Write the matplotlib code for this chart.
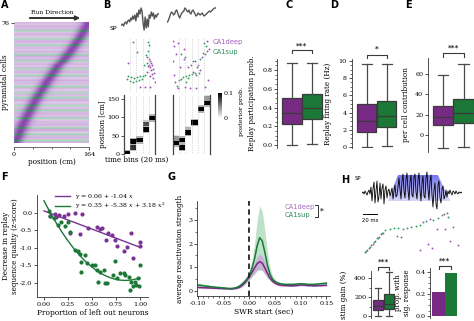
import numpy as np
import matplotlib
matplotlib.use("Agg")
import matplotlib.pyplot as plt
from matplotlib.colors import LinearSegmentedColormap
from matplotlib.lines import Line2D
from matplotlib.patches import Polygon, FancyArrowPatch
from matplotlib.ticker import AutoMinorLocator

# ---------------------------------------------------------------- data
groups = ["CA1deep", "CA1sup"]

# A: place-field peaks (cm) of 76 pyramidal cells, bottom row first
track_length_cm = 164
place_peaks_cm = [2, 4, 5, 7, 9, 10, 11, 13, 14, 16,
                  17, 19, 20, 22, 24, 25, 27, 29, 31, 33,
                  35, 36, 38, 40, 42, 44, 46, 48, 50, 52,
                  54, 57, 59, 61, 63, 66, 68, 70, 72, 75,
                  77, 80, 82, 84, 87, 89, 91, 94, 96, 99,
                  104, 107, 110, 113, 116, 118, 121, 124, 126, 129,
                  131, 134, 136, 139, 141, 144, 146, 148, 150, 152,
                  154, 156, 158, 160, 162, 163]
superficial_rows = [2, 6, 10, 16, 21, 24, 29, 32, 36, 43, 47, 52, 56, 62, 66, 71]
row_background = [0.30, 0.45, 0.20, 0.35, 0.25, 0.50, 0.15, 0.30, 0.40, 0.45,
                  0.20, 0.35, 0.25, 0.30, 0.15, 0.45, 0.30, 0.20, 0.35, 0.25,
                  0.45, 0.30, 0.20, 0.40, 0.25, 0.15, 0.35, 0.30, 0.45, 0.20,
                  0.30, 0.40, 0.25, 0.15, 0.35, 0.45, 0.20, 0.30, 0.25, 0.40,
                  0.15, 0.30, 0.45, 0.20, 0.35, 0.25, 0.40, 0.30, 0.15, 0.35,
                  0.20, 0.45, 0.30, 0.25, 0.40, 0.50, 0.20, 0.35, 0.15, 0.30,
                  0.25, 0.45, 0.20, 0.35, 0.30, 0.40, 0.15, 0.25, 0.35, 0.20,
                  0.45, 0.30, 0.25, 0.35, 0.20, 0.30]

# B: LFP snippets of two replay events (arbitrary units)
lfp_event1 = [0, 1, -1, 2, 3, 1, 4, 5, 3, 7, 5, 9, 6, 10, 4, 12, 8, 15, 11, 17,
              14, 2, -5, 8, -3, 6, -2, 10, 7, 13, 9, 12, 6, 10, 8, 11, 11]
lfp_event2 = [-2, 0, 3, 6, 8, 7, 5, 6, 9, 10, 7, 4, 2, 5, 7, 8, 9, 12, 11, 9,
              8, 10, 7, 6, 9, 10, 8, 6, 4, 5, 7, 6, 5, 6, 7, 5, 4, 5, 6, 7,
              8, 9, 8, 9, 10, 11, 12, 12]
# spikes: time (ms) and cell rank
ev1_deep_t = [29, 13, 42, 74, 80, 83, 86, 80, 90, 77, 83, 93, 86, 74, 90, 83, 96, 10, 51, 67, 83, 93, 99]
ev1_deep_cell = [56, 33, 45, 39, 37, 35, 33, 31, 30, 29, 28, 26, 25, 23, 21, 18, 22, 15, 6, 6, 6, 16, 12]
ev1_sup_t = [77, 80, 77, 70, 64, 13, 22, 32, 42, 51, 61, 19, 29, 38, 48, 58, 67, 74]
ev1_sup_cell = [56, 52, 46, 41, 30, 18, 17, 16, 17, 18, 18, 13, 12, 13, 14, 15, 20, 33]
ev2_deep_t = [0, 3, 10, 1, 23, 3, 6, 16, 39, 55, 75, 104, 113, 87, 81, 71, 94, 104, 110, 117,
              110, 75, 65, 49, 58, 36, 16, 36]
ev2_deep_cell = [57, 51, 43, 35, 28, 20, 12, 5, 7, 5, 5, 7, 14, 25, 31, 35, 39, 43, 46, 48,
                 57, 20, 23, 28, 30, 37, 54, 48]
ev2_sup_t = [32, 42, 52, 62, 71, 26, 19, 49, 78, 87, 97, 107, 39, 26, 13, 42, 65, 84, 100]
ev2_sup_cell = [17, 18, 20, 21, 22, 15, 14, 16, 28, 37, 44, 51, 39, 43, 8, 12, 35, 22, 54]
# decoded posterior: per 20-ms bin, list of (position cm, probability)
ev1_posterior = [[(4, 0.10)], [(20, 0.08), (35, 0.10)], [(38, 0.10)],
                 [(68, 0.10), (82, 0.07)], [(97, 0.10)]]
ev2_posterior = [[(30, 0.10), (44, 0.04)], [(20, 0.10), (38, 0.10)], [(57, 0.10), (68, 0.03)],
                 [(87, 0.10)], [(120, 0.10)], [(139, 0.10), (150, 0.04)]]

# C-E: box statistics (low whisker, q1, median, q3, high whisker)
participation_stats = [(0.00, 0.22, 0.34, 0.50, 0.87), (0.01, 0.28, 0.40, 0.54, 0.87)]
firing_rate_stats = [(0.0, 1.7, 3.0, 5.0, 9.6), (0.1, 2.35, 3.65, 5.35, 9.6)]
contribution_stats = [(-13, 10, 18, 29, 59), (-12, 12, 22, 35, 70)]

# F: replay quality after removing neurons
f_deep_x = [0.11, 0.16, 0.21, 0.25, 0.32, 0.40, 0.27, 0.37, 0.46, 0.55, 0.58, 0.65, 0.67,
            0.74, 0.76, 0.83, 0.91, 0.93, 1.00, 1.00, 0.06, 0.13, 0.60, 0.71, 0.86]
f_deep_y = [-0.04, -0.06, -0.08, -0.04, -0.01, -0.04, -0.58, -0.61, -0.44, -0.39, -0.45, -0.77, -0.56,
            -0.77, -0.94, -1.08, -0.56, -1.30, -0.83, -0.93, -0.08, -0.12, -0.42, -0.62, -0.98]
f_sup_x = [0.05, 0.06, 0.10, 0.15, 0.18, 0.22, 0.25, 0.27, 0.32, 0.35, 0.37, 0.39, 0.43, 0.45,
           0.39, 0.50, 0.53, 0.55, 0.58, 0.62, 0.56, 0.64, 0.66, 0.74, 0.72, 0.76, 0.79, 0.83,
           0.84, 0.88, 0.91, 0.95, 0.98, 0.93, 0.96, 0.99, 1.00, 0.90]
f_sup_y = [0.05, -0.10, -0.15, -0.34, -0.25, -0.36, -0.25, -0.55, -1.06, -1.10, -1.18, -1.39, -1.20, -1.44,
           -1.68, -1.49, -1.49, -1.63, -1.68, -1.63, -1.96, -2.00, -2.00, -1.37, -1.77, -1.86, -1.72, -1.72,
           -1.77, -1.82, -1.96, -1.96, -1.85, -2.10, -2.05, -2.10, -1.49, -2.20]
fit_deep = (0.06, -1.04)
fit_sup = (0.35, -5.38, 3.18)

# G: reactivation strength around SWR start
g_step = 0.005
g_deep_mean = [0.15, 0.15, 0.14, 0.14, 0.13, 0.13, 0.12, 0.12, 0.11, 0.11,
               0.10, 0.10, 0.09, 0.09, 0.10, 0.12, 0.15, 0.22, 0.32, 0.45,
               0.60, 0.78, 0.97, 1.15, 1.24, 1.18, 0.98, 0.75, 0.55, 0.42,
               0.33, 0.28, 0.25, 0.24, 0.23, 0.23, 0.22, 0.22, 0.23, 0.24,
               0.25, 0.25, 0.24, 0.23, 0.23, 0.22, 0.22, 0.23, 0.23, 0.24, 0.24]
g_sup_mean = [0.25, 0.24, 0.22, 0.21, 0.20, 0.18, 0.17, 0.16, 0.15, 0.14,
              0.13, 0.12, 0.11, 0.11, 0.12, 0.15, 0.20, 0.28, 0.38, 0.50,
              0.66, 0.95, 1.35, 1.90, 2.25, 2.12, 1.65, 1.10, 0.72, 0.50,
              0.40, 0.34, 0.31, 0.29, 0.28, 0.28, 0.28, 0.28, 0.29, 0.30,
              0.31, 0.30, 0.29, 0.28, 0.28, 0.28, 0.29, 0.30, 0.31, 0.32, 0.33]
g_deep_ci = [0.04, 0.04, 0.04, 0.04, 0.03, 0.03, 0.03, 0.03, 0.03, 0.03,
             0.03, 0.03, 0.03, 0.03, 0.03, 0.03, 0.04, 0.05, 0.06, 0.08,
             0.10, 0.14, 0.20, 0.27, 0.32, 0.30, 0.24, 0.16, 0.10, 0.07,
             0.05, 0.04, 0.04, 0.04, 0.03, 0.03, 0.03, 0.03, 0.03, 0.03,
             0.03, 0.03, 0.03, 0.03, 0.03, 0.03, 0.03, 0.03, 0.03, 0.03, 0.03]
g_sup_ci = [0.10, 0.09, 0.08, 0.07, 0.06, 0.05, 0.05, 0.04, 0.04, 0.04,
            0.04, 0.04, 0.04, 0.04, 0.04, 0.05, 0.06, 0.08, 0.10, 0.14,
            0.20, 0.35, 0.65, 1.05, 1.35, 1.25, 0.95, 0.55, 0.28, 0.14,
            0.09, 0.07, 0.06, 0.05, 0.05, 0.05, 0.05, 0.05, 0.05, 0.05,
            0.06, 0.06, 0.05, 0.05, 0.05, 0.05, 0.05, 0.05, 0.06, 0.06, 0.06]

# H: optogenetic ripple example
h_sample_ms = 1.36
h_lfp = [0, 1, -1, 2, 0, -2, 1, 3, -1,
         6, -8, 4, 11, -10, 2, 12, -9, -3, 10, -6, 5, 9, -11, 3,
         7, -5, 2, 4, -3, 1, 5, -6, 2, 8, -4, -2, 6,
         15, 4, -6, 12, 19, 2, -5, 14, 20, 3, -7, 11, 18, -2, -4, 16, 19, 1, -6, 13,
         20, 3, -8, 10, 17, -3, -5, 15, 21, 4, -7, 12, 18, -2, -14, 3, 10, -11, -16, 8,
         12, -5, -10, 4, 7, -6, -3,
         3, -4, 2, -1, 3, 0, -2, 2, 1, -1, 2, 0, -1, 1, 0, 1, 0]
stim_ramp_ms = [35, 49, 103, 120]
stim_ramp_level = [-8, 18, 18, -8]
h_deep_t = [4, 7, 10, 12, 15, 18, 20, 23, 26, 29, 48, 53, 102, 113, 120, 90, 95, 79, 131, 92, 109, 116, 83]
h_deep_cell = [5, 7, 9, 11, 12, 15, 17, 18, 21, 22, 19, 18, 25, 25, 15, 12, 9, 7, 11, 34, 37, 39, 31]
h_sup_t = [5, 11, 16, 22, 27, 31, 38, 44, 49, 56, 61, 67, 73, 79, 87, 97, 103, 112, 117, 124]
h_sup_cell = [6, 10, 14, 17, 22, 24, 25, 26, 26, 25, 26, 27, 28, 29, 32, 33, 35, 38, 36, 27]
stim_gain_stats = [(5, 60, 105, 165, 300), (5, 75, 130, 235, 460)]
sig_response_prop = [0.22, 0.39]

# ---------------------------------------------------------------- style
PURPLE = "#762a83"
GREEN = "#1b7837"
DOT_PURPLE = "#9b4fb5"
DOT_GREEN = "#2e9e5b"
EDGE = "#3a3a3a"
SANS = "DejaVu Sans"

plt.rcParams.update({
    "font.family": "DejaVu Serif",
    "mathtext.fontset": "dejavuserif",
    "axes.unicode_minus": False,
    "font.size": 5,
    "axes.linewidth": 0.6,
    "axes.edgecolor": "#333333",
    "xtick.color": "#333333", "ytick.color": "#333333",
    "xtick.labelcolor": "black", "ytick.labelcolor": "black",
    "xtick.major.width": 0.6, "ytick.major.width": 0.6,
    "xtick.major.size": 2.2, "ytick.major.size": 2.2,
    "xtick.minor.size": 1.2, "ytick.minor.size": 1.2,
    "xtick.minor.width": 0.5, "ytick.minor.width": 0.5,
    "xtick.labelsize": 4.6, "ytick.labelsize": 4.6,
    "xtick.major.pad": 1.2, "ytick.major.pad": 1.2,
    "axes.labelsize": 5.2, "axes.labelpad": 1.5,
})

W, H = 474, 321
fig = plt.figure(figsize=(W / 100, H / 100), dpi=100)


def add_ax(x0, y0, x1, y1):
    return fig.add_axes([x0 / W, 1 - y1 / H, (x1 - x0) / W, (y1 - y0) / H])


def ftext(x, y, s, **kw):
    fig.text(x / W, 1 - y / H, s, **kw)


def panel_letter(x, y, s):
    ftext(x, y, s, family=SANS, fontweight="bold", fontsize=7, ha="left", va="center")


def only_left(ax):
    for side in ("top", "right", "bottom"):
        ax.spines[side].set_visible(False)
    ax.set_xticks([])


def sig_bracket(ax, x0, x1, y, h, text, ty):
    ax.plot([x0, x0, x1, x1], [y - h, y, y, y - h], color=EDGE, lw=0.8, clip_on=False)
    ax.text((x0 + x1) / 2, ty, text, ha="center", va="center", fontsize=5.5, clip_on=False)


def box_pair(ax, stats, widths=0.98):
    bstats = [dict(whislo=s[0], q1=s[1], med=s[2], q3=s[3], whishi=s[4], fliers=[]) for s in stats]
    parts = ax.bxp(bstats, positions=[0, 1], widths=widths, patch_artist=True,
                   showfliers=False, capwidths=0.5, manage_ticks=False,
                   boxprops=dict(edgecolor=EDGE, linewidth=0.9),
                   medianprops=dict(color=EDGE, linewidth=0.9),
                   whiskerprops=dict(color="#4a4a4a", linewidth=0.9),
                   capprops=dict(color="#4a4a4a", linewidth=0.9))
    for patch, c in zip(parts["boxes"], [PURPLE, GREEN]):
        patch.set_facecolor(c)


# ---------------------------------------------------------------- A
axA = add_ax(14, 22, 89, 143)
deep_cmap = LinearSegmentedColormap.from_list("deep", ["#ecdff1", "#c59fd7", "#8a48ab"])
sup_cmap = LinearSegmentedColormap.from_list("sup", ["#dff3e6", "#98d6af", "#2a9158"])
pos_grid = np.linspace(0, track_length_cm, 83)
rgb = np.zeros((len(place_peaks_cm), pos_grid.size, 3))
for i, (peak, base) in enumerate(zip(place_peaks_cm, row_background)):
    rate = base + (1 - base) * np.exp(-0.5 * ((pos_grid - peak) / 11.0) ** 2)
    cmap = sup_cmap if (i + 1) in superficial_rows else deep_cmap
    rgb[i] = cmap(rate)[:, :3]
axA.imshow(rgb, origin="lower", aspect="auto", interpolation="bilinear",
           extent=[0, track_length_cm, 0.5, len(place_peaks_cm) + 0.5])
axA.set_xlim(0, track_length_cm)
axA.set_ylim(0.5, len(place_peaks_cm) + 0.5)
axA.set_xticks([0, track_length_cm])
axA.set_xticks([41, 82, 123], minor=True)
axA.set_yticks([len(place_peaks_cm)])
for side in ("top", "right", "left"):
    axA.spines[side].set_visible(False)
axA.spines["bottom"].set_position(("outward", 3))
axA.spines["bottom"].set_linewidth(0.5)
axA.set_xlabel("position (cm)", labelpad=0.5)
axA.set_ylabel("pyramidal cells")
axA.yaxis.set_label_coords(-0.065, 0.5)
ftext(52, 12.5, "Run Direction", fontsize=4.4, ha="center", va="center")
fig.add_artist(FancyArrowPatch(
    (27 / W, 1 - 18 / H), (83 / W, 1 - 18 / H), transform=fig.transFigure,
    arrowstyle="-|>", mutation_scale=6, color="#333333", lw=1.4))
panel_letter(1, 5, "A")

# ---------------------------------------------------------------- B
panel_letter(103, 5, "B")
ax = add_ax(121, 3, 159, 36)
ax.plot(np.arange(len(lfp_event1)), lfp_event1, color="#555555", lw=1.0)
ax.set_xlim(-0.5, len(lfp_event1) - 0.5)
ax.set_ylim(-11, 22)
ax.axis("off")
ax = add_ax(167, 3, 216, 36)
ax.plot(np.arange(len(lfp_event2)), lfp_event2, color="#555555", lw=1.0)
ax.set_xlim(-0.5, len(lfp_event2) - 0.5)
ax.set_ylim(-16, 17)
ax.axis("off")
ftext(113, 28, "SP", family=SANS, fontsize=4.5, ha="center", va="center")

for (x0, x1, nb, dt, dc, st, sc, post) in [
        (124, 155, 5, ev1_deep_t, ev1_deep_cell, ev1_sup_t, ev1_sup_cell, ev1_posterior),
        (173, 210, 6, ev2_deep_t, ev2_deep_cell, ev2_sup_t, ev2_sup_cell, ev2_posterior)]:
    axr = add_ax(x0, 38, x1, 93)
    axr.set_xlim(0, nb * 20)
    axr.set_ylim(0, 60)
    for k in range(1, nb):
        axr.axvline(k * 20, color="#bbbbbb", lw=0.5, ls=(0, (1, 1.5)))
    axr.scatter(dt, dc, s=1.8, color=DOT_PURPLE, linewidths=0)
    axr.scatter(st, sc, s=1.8, color=DOT_GREEN, linewidths=0)
    axr.axis("off")

    axp = add_ax(x0, 95.3, x1, 154)
    m = np.zeros((40, nb))
    for j, peaks in enumerate(post):
        for pos, p in peaks:
            k = int(round((pos - 2) / 4))
            for dk, w in ((-2, 0.3), (-1, 1.0), (0, 1.0), (1, 1.0), (2, 0.3)):
                if 0 <= k + dk < 40:
                    m[k + dk, j] = max(m[k + dk, j], p * w)
    im = axp.imshow(m, origin="lower", aspect="auto", cmap="gray_r", vmin=0, vmax=0.1,
                    extent=[0, nb, 0, 160], interpolation="nearest")
    for k in range(1, nb):
        axp.axvline(k, color="#bbbbbb", lw=0.5, ls=(0, (1, 1.5)))
    axp.set_xlim(0, nb)
    axp.set_ylim(0, 160)
    axp.set_xticks([])
    for side in ("top", "bottom"):
        axp.spines[side].set_visible(False)
    for side in ("left", "right"):
        axp.spines[side].set_color("#444444")
        axp.spines[side].set_linewidth(0.9)
    if x0 == 124:
        axp.set_yticks([0, 50, 100, 150])
        axp.set_ylabel("position [cm]")
        axp.yaxis.set_label_coords(-0.56, 0.5)
    else:
        axp.set_yticks([])

ftext(137, 159.5, "time bins (20 ms)", fontsize=5.2, ha="center", va="center")
cax = add_ax(218, 93, 222, 118)
cb = fig.colorbar(im, cax=cax, ticks=[0, 0.1])
cb.outline.set_visible(False)
cax.set_yticklabels(["0", "0.1"])
cax.tick_params(length=0, pad=1.5)
ftext(241, 111, "posterior prob.", fontsize=4.6, rotation=90, ha="center", va="center")
ftext(213, 42, groups[0], family=SANS, fontsize=4.9, color="#a05bbd", ha="left", va="center")
ftext(213, 52, groups[1], family=SANS, fontsize=4.9, color="#2e8b57", ha="left", va="center")

# ---------------------------------------------------------------- C
panel_letter(286, 5, "C")
axC = add_ax(277, 58.5, 327, 148)
box_pair(axC, participation_stats)
axC.set_xlim(-0.75, 1.75)
axC.set_ylim(-0.032, 0.923)
axC.set_yticks([0.0, 0.2, 0.4, 0.6, 0.8])
axC.yaxis.set_minor_locator(AutoMinorLocator(4))
only_left(axC)
axC.set_ylabel("Replay participation prob.")
axC.yaxis.set_label_coords(-0.41, 0.5)
sig_bracket(axC, 0, 1, 1.013, 0.03, "***", 1.05)

# ---------------------------------------------------------------- D
panel_letter(330, 5, "D")
axD = add_ax(351.5, 59, 401.5, 148.3)
box_pair(axD, firing_rate_stats)
axD.set_xlim(-0.75, 1.75)
axD.set_ylim(-0.15, 10.23)
axD.set_yticks([0, 2, 4, 6, 8, 10])
axD.yaxis.set_minor_locator(AutoMinorLocator(4))
only_left(axD)
axD.set_ylabel("Replay firing rate (Hz)")
axD.yaxis.set_label_coords(-0.38, 0.5)
sig_bracket(axD, 0, 1, 10.7, 0.35, "*", 11.3)

# ---------------------------------------------------------------- E
panel_letter(405, 5, "E")
axE = add_ax(428, 58, 474, 152)
box_pair(axE, contribution_stats)
axE.set_xlim(-0.73, 1.51)
axE.set_ylim(-16.7, 75.7)
axE.set_yticks([0, 20, 40, 60])
only_left(axE)
axE.set_ylabel("per cell contribution")
axE.yaxis.set_label_coords(-0.40, 0.5)
sig_bracket(axE, 0, 1, 80.6, 3.5, "***", 84.5)

# ---------------------------------------------------------------- F
panel_letter(1, 177, "F")
axF = add_ax(37, 195, 148, 297)
axF.scatter(f_deep_x, f_deep_y, s=9, color="#7b3294", linewidths=0, zorder=3)
axF.scatter(f_sup_x, f_sup_y, s=9, color=GREEN, linewidths=0, zorder=3)
xs = np.linspace(0, 1, 100)
axF.plot(xs, fit_deep[0] + fit_deep[1] * xs, color="#7b3294", lw=1.0)
axF.plot(xs, fit_sup[0] + fit_sup[1] * xs + fit_sup[2] * xs ** 2, color=GREEN, lw=1.0)
axF.set_xlim(-0.073, 1.083)
axF.set_ylim(-2.4, 0.514)
axF.set_xticks([0.0, 0.25, 0.5, 0.75, 1.0])
axF.set_xticklabels(["0.00", "0.25", "0.50", "0.75", "1.00"])
axF.set_yticks([0.0, -0.5, -1.0, -1.5, -2.0])
for side in ("top", "right"):
    axF.spines[side].set_visible(False)
axF.set_xlabel("Proportion of left out neurons", fontsize=5.4)
axF.set_ylabel("Decrease in replay\nsequence quality (z-score)", linespacing=1.1)
axF.yaxis.set_label_coords(-0.165, 0.5)
leg_rows = [("#7b3294", "y = %.2f + %.2f $x$" % fit_deep),
            (GREEN, "y = %.2f + %.2f $x$ + %.2f $x^2$" % fit_sup)]
for i, (c, lab) in enumerate(leg_rows):
    yy = 0.99 - 0.1 * i
    axF.add_line(Line2D([0.16, 0.30], [yy, yy], color=c, lw=1.0, transform=axF.transAxes, clip_on=False))
    axF.text(0.34, yy, lab, transform=axF.transAxes, fontsize=4.5, va="center", ha="left")

# ---------------------------------------------------------------- G
panel_letter(168, 177, "G")
axG = add_ax(197, 201, 330, 296)
g_time = -0.1 + g_step * np.arange(len(g_deep_mean))
gd, gs = np.array(g_deep_mean), np.array(g_sup_mean)
axG.fill_between(g_time, gs - np.array(g_sup_ci), gs + np.array(g_sup_ci), color="#a9d9b8", alpha=0.75, lw=0)
axG.fill_between(g_time, gd - np.array(g_deep_ci), gd + np.array(g_deep_ci), color="#c6a6d6", alpha=0.8, lw=0)
axG.plot(g_time, gd, color=PURPLE, lw=1.1)
axG.plot(g_time, gs, color=GREEN, lw=1.1)
axG.axvline(0, color="#222222", lw=1.3, ls=(0, (3, 2)))
axG.set_xlim(-0.102, 0.157)
axG.set_ylim(-0.21, 3.8)
axG.set_xticks([-0.10, -0.05, 0.0, 0.05, 0.10, 0.15])
axG.set_xticklabels(["-0.10", "-0.05", "0.00", "0.05", "0.10", "0.15"])
axG.set_yticks([0, 1, 2, 3])
axG.xaxis.set_minor_locator(AutoMinorLocator(5))
axG.yaxis.set_minor_locator(AutoMinorLocator(2))
for side in ("top", "right"):
    axG.spines[side].set_visible(False)
axG.set_xlabel("SWR start (sec)", fontsize=5.4)
axG.set_ylabel("average reactivation strength")
axG.yaxis.set_label_coords(-0.10, 0.5)
ftext(285, 207, groups[0], family=SANS, fontsize=4.9, color="#a66bbf", ha="left", va="center")
ftext(285, 215, groups[1], family=SANS, fontsize=4.9, color="#2e8b57", ha="left", va="center")
fig.add_artist(Line2D([315 / W, 318 / W, 318 / W, 315 / W],
                      [1 - 205 / H, 1 - 205 / H, 1 - 217 / H, 1 - 217 / H],
                      transform=fig.transFigure, color="#333333", lw=0.7))
ftext(322, 212, "*", fontsize=5.5, ha="center", va="center")

# ---------------------------------------------------------------- H
panel_letter(341, 180, "H")
axHL = add_ax(362, 165, 462, 212)
ramp = Polygon(np.column_stack([stim_ramp_ms, stim_ramp_level]), closed=True,
               facecolor="none", edgecolor="none")
axHL.add_patch(ramp)
grad = axHL.imshow(np.linspace(1, 0, 50)[:, None], aspect="auto", cmap=LinearSegmentedColormap.from_list(
    "light", ["#d6d6fa", "#7474ec"]), extent=[0, 136, min(stim_ramp_level), max(stim_ramp_level)],
    origin="upper", zorder=1)
grad.set_clip_path(ramp)
axHL.plot(np.arange(len(h_lfp)) * h_sample_ms, h_lfp, color="black", lw=0.6, zorder=2)
axHL.set_xlim(0, 136)
axHL.set_ylim(-19, 28)
axHL.axis("off")
ftext(358, 179, "SP", family=SANS, fontsize=3.8, ha="center", va="center")
fig.add_artist(Line2D([363 / W, 377 / W], [1 - 214 / H, 1 - 214 / H],
                      transform=fig.transFigure, color="black", lw=0.7))
ftext(370, 220, "20 ms", family=SANS, fontsize=3.8, ha="center", va="center")

axHR = add_ax(362, 212, 462, 258)
axHR.scatter(h_deep_t, h_deep_cell, s=1.8, color=DOT_PURPLE, linewidths=0)
axHR.scatter(h_sup_t, h_sup_cell, s=1.8, color=DOT_GREEN, linewidths=0)
axHR.set_xlim(0, 136)
axHR.set_ylim(0, 40)
axHR.axis("off")

axHB = add_ax(371, 271, 400, 318)
box_pair(axHB, stim_gain_stats, widths=0.9)
axHB.set_xlim(-0.64, 2.0)
axHB.set_ylim(-21, 474)
axHB.set_yticks([0, 200, 400])
axHB.yaxis.set_minor_locator(AutoMinorLocator(2))
only_left(axHB)
axHB.set_ylabel("stim gain (%)")
axHB.yaxis.set_label_coords(-0.78, 0.5)
sig_bracket(axHB, 0, 1, 516, 30, "***", 560)

axHbar = add_ax(430, 268, 462, 318)
axHbar.bar([0, 1], sig_response_prop, width=1.0, color=[PURPLE, GREEN], linewidth=0)
axHbar.set_xlim(-0.7, 1.9)
axHbar.set_ylim(-0.018, 0.436)
axHbar.set_yticks([0.0, 0.2, 0.4])
axHbar.yaxis.set_minor_locator(AutoMinorLocator(4))
only_left(axHbar)
axHbar.set_ylabel("prop. with\nsig. response", linespacing=1.05, fontsize=5.0)
axHbar.yaxis.set_label_coords(-0.60, 0.5)
sig_bracket(axHbar, 0, 1, 0.455, 0.027, "***", 0.497)

fig.savefig("out.png", dpi=100)
